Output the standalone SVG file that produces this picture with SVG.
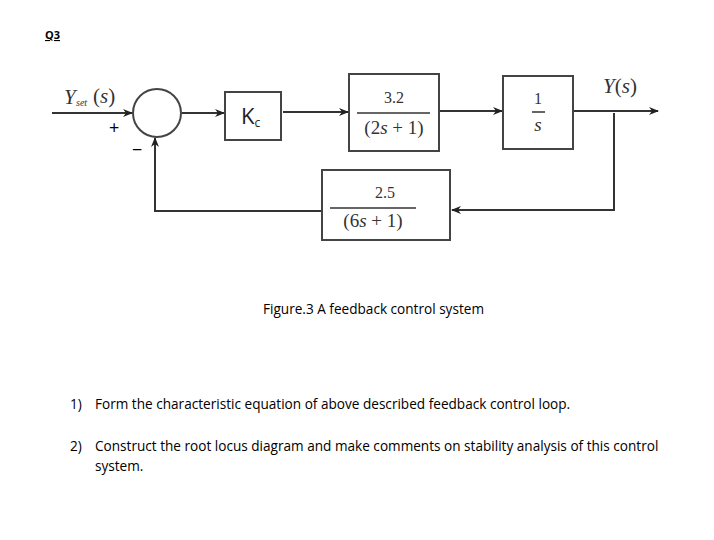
<svg xmlns="http://www.w3.org/2000/svg" width="714" height="540" viewBox="0 0 714 540">
<style>
.b{fill:#fff;stroke:#444;stroke-width:2}
.l{fill:none;stroke:#333;stroke-width:2}
.m{font-family:"Liberation Serif",serif;fill:#333}
.t{font-family:"Open Sans","Liberation Sans",sans-serif;fill:#000}
</style>
<defs><marker id="a" markerWidth="10" markerHeight="8" refX="9" refY="4" orient="auto" markerUnits="userSpaceOnUse"><path d="M0,0L10,4L0,8L3,4z" fill="#222"/></marker></defs>
<rect width="714" height="540" fill="#fff"/>
<text x="45" y="39" class="t" font-weight="bold" font-size="11" text-decoration="underline">Q3</text>
<g id="connectors">
<path class="l" d="M52,113H132" marker-end="url(#a)"/>
<path class="l" d="M182,113H224" marker-end="url(#a)"/>
<path class="l" d="M283,112H348" marker-end="url(#a)"/>
<path class="l" d="M440,111H502" marker-end="url(#a)"/>
<path class="l" d="M574,111H658" marker-end="url(#a)"/>
<path class="l" d="M614,113V210H452" marker-end="url(#a)"/>
<path class="l" d="M322,211H155V138" marker-end="url(#a)"/>
</g>
<g id="sum"><circle cx="157" cy="113" r="24" class="b"/>
<text x="109" y="134" class="t" font-size="18">+</text><text x="132" y="156" class="t" font-size="18">−</text></g>
<text x="64" y="104" class="m" font-style="italic" font-size="21" fill="#445">Y</text><text x="76" y="106" class="m" font-style="italic" font-size="10">set</text><text x="93" y="103" class="m" font-size="21" fill="#445">(<tspan font-style="italic">s</tspan>)</text>
<g id="kc"><rect x="225" y="92" width="56" height="48" class="b"/><text x="241" y="124" font-family="Open Sans,sans-serif" font-size="22" fill="#222">K<tspan font-size="12" dy="3">c</tspan></text></g>
<g id="g1"><rect x="349" y="74" width="90" height="77" class="b"/><text x="394" y="103" class="m" text-anchor="middle" font-family="Liberation Sans,sans-serif" font-size="16">3.2</text><path d="M357,113H430" stroke="#333" stroke-width="1.5"/><text x="394" y="134" class="m" text-anchor="middle" font-size="19">(2<tspan font-style="italic">s</tspan> + 1)</text></g>
<g id="g2"><rect x="503" y="76" width="70" height="73" class="b"/><text x="538" y="104" class="m" text-anchor="middle" font-family="Liberation Sans,sans-serif" font-size="16">1</text><path d="M532,112H545" stroke="#333" stroke-width="1.5"/><text x="538" y="131" class="m" text-anchor="middle" font-style="italic" font-size="19">s</text></g>
<text x="603" y="93" class="m" font-size="21"><tspan font-style="italic">Y</tspan>(<tspan font-style="italic">s</tspan>)</text>
<g id="h"><rect x="322" y="170" width="128" height="70" class="b"/><text x="385" y="198" class="m" text-anchor="middle" font-family="Liberation Sans,sans-serif" font-size="16">2.5</text><path d="M330,208H416" stroke="#333" stroke-width="1.5"/><text x="373" y="227" class="m" text-anchor="middle" font-size="19">(6<tspan font-style="italic">s</tspan> + 1)</text></g>
<g font-size="13.6">
<text x="263" y="314" class="t">Figure.3 A feedback control system</text>
<text x="70" y="409" class="t">1)</text><text x="95" y="409" class="t">Form the characteristic equation of above described feedback control loop.</text>
<text x="70" y="451" class="t">2)</text><text x="95" y="451" class="t">Construct the root locus diagram and make comments on stability analysis of this control</text>
<text x="95" y="471" class="t">system.</text>
</g>
</svg>
